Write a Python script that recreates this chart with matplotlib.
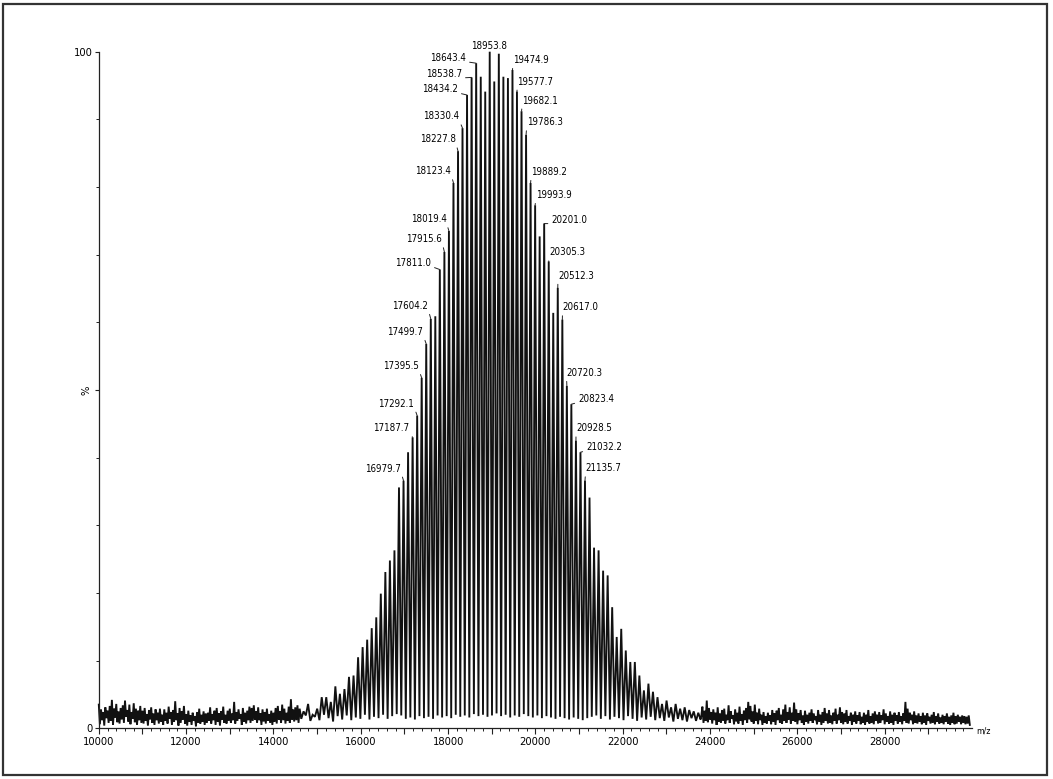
import numpy as np
import matplotlib
matplotlib.use("Agg")
import matplotlib.pyplot as plt
from matplotlib import font_manager
from matplotlib.patches import Rectangle

# pick a narrow face if the machine has one
_fonts = font_manager.fontManager.ttflist
_names = {f.name for f in _fonts}
if "Liberation Sans Narrow" in _names:
    FONT, STRETCH, TICK_FS, LAB_FS = ["Liberation Sans Narrow", "DejaVu Sans"], "normal", 8.5, 7.5
elif any(f.name == "DejaVu Sans" and f.stretch == "condensed" for f in _fonts):
    FONT, STRETCH, TICK_FS, LAB_FS = ["DejaVu Sans", "DejaVu Sans"], "condensed", 8.0, 7.0
else:
    FONT, STRETCH, TICK_FS, LAB_FS = ["Liberation Sans", "DejaVu Sans"], "normal", 7.6, 6.8

# ---------------------------------------------------------------- data
# main series of peaks (m/z) and relative intensity (%)
peak_mz = [14689.5, 14793.6, 14897.7, 15001.8, 15105.9, 15210.0, 15314.1, 15418.2,
           15522.3, 15626.4, 15730.5, 15834.6, 15938.7, 16042.8, 16146.9, 16251.0,
           16355.1, 16459.2, 16563.3, 16667.4, 16771.5, 16875.6,
           16979.7, 17083.7, 17187.7, 17292.1, 17395.5, 17499.7, 17604.2, 17707.5,
           17811.0, 17915.6, 18019.4, 18123.4, 18227.8, 18330.4, 18434.2, 18538.7,
           18643.4, 18748.3, 18851.0, 18953.8, 19058.0, 19162.2, 19266.5, 19370.7,
           19474.9, 19577.7, 19682.1, 19786.3, 19889.2, 19993.9, 20097.5, 20201.0,
           20305.3, 20408.8, 20512.3, 20617.0, 20720.3, 20823.4, 20928.5, 21032.2,
           21135.7,
           21239.5, 21343.3, 21447.1, 21550.9, 21654.7, 21758.5, 21862.3, 21966.1,
           22069.9, 22173.7, 22277.5, 22381.3, 22485.1, 22588.9, 22692.7, 22796.5,
           22900.3, 23004.1, 23107.9, 23211.7, 23315.5, 23419.3, 23523.1, 23626.9,
           23730.7]
peak_pct = [2.5, 3.6, 2.0, 2.9, 4.6, 4.6, 3.9, 6.2,
            5.1, 5.8, 7.6, 7.8, 10.5, 12.0, 13.1, 14.8,
            16.4, 19.9, 23.1, 24.8, 26.3, 35.6,
            36.6, 40.8, 43.0, 46.2, 51.8, 56.8, 60.5, 60.9,
            67.8, 70.4, 73.5, 80.6, 85.3, 88.7, 93.6, 96.2,
            98.3, 96.3, 94.1, 100.0, 95.6, 99.7, 96.3, 96.1,
            97.3, 94.1, 91.2, 87.7, 80.6, 77.3, 72.7, 74.6,
            69.0, 61.4, 65.1, 60.4, 50.6, 47.9, 42.5, 40.8,
            36.6,
            34.1, 26.7, 26.3, 23.3, 22.6, 17.9, 13.5, 14.7,
            11.5, 9.8, 9.8, 7.8, 5.6, 6.6, 5.4, 4.6,
            3.6, 4.1, 3.1, 3.6, 2.9, 3.1, 2.7, 2.5,
            2.3]
# troughs between the peaks (%)
valley_pct = [1.4, 1.9, 1.1, 1.7, 1.2, 2.0, 1.5, 1.0, 1.8, 1.3, 1.9, 1.2,
              1.6, 1.4, 2.0, 1.3, 1.7, 1.5, 2.0, 1.4, 1.8, 2.1, 1.9,
              1.4, 1.6, 1.3, 1.8, 1.5, 1.7, 1.4, 1.9, 1.6, 1.8, 1.5, 2.0,
              1.7, 1.9, 1.6, 2.1, 1.8, 2.0, 1.7, 1.9, 2.2, 1.8, 2.0, 1.6,
              1.9, 1.7, 2.1, 1.8, 1.6, 1.9, 1.5, 1.8, 1.6, 1.4, 1.7, 1.5,
              1.3, 1.6, 1.4, 1.2, 1.5,
              1.7, 1.9, 1.4, 1.8, 1.3, 1.7, 1.5, 1.2, 1.8, 1.4, 1.1, 1.6,
              1.3, 1.7, 1.2, 1.5, 1.1, 1.6, 1.0, 1.4, 1.2, 1.0, 1.5, 1.1, 1.3]
# baseline noise, every 25 Da from 10000 to 14600
noise_left_pct = [
    3.5, 0.6, 2.8, 1.2, 2.4, 0.4, 3.1, 1.5, 2.6, 0.8, 3.3, 1.1, 4.2, 0.5, 2.9, 1.6, 3.6, 0.9, 2.5, 0.7,
    3.0, 1.3, 3.4, 0.8, 4.1, 1.7, 2.7, 1.0, 3.5, 0.6, 2.4, 1.4, 3.7, 0.9, 2.9, 0.5, 2.6, 1.2, 3.3, 0.8,
    2.6, 0.7, 3.0, 1.1, 2.1, 0.4, 2.7, 1.3, 3.1, 0.8, 2.2, 0.5, 2.8, 1.2, 2.3, 0.7, 2.9, 1.0, 2.0, 0.5,
    2.8, 1.1, 2.3, 0.7, 3.2, 1.4, 2.4, 0.5, 2.7, 1.0, 4.0, 1.2, 2.2, 0.4, 3.0, 0.8, 2.5, 1.3, 3.3, 0.7,
    2.1, 0.4, 2.6, 1.0, 1.9, 0.5, 2.3, 1.1, 1.8, 0.3, 2.4, 0.8, 2.9, 0.7, 2.0, 1.0, 2.5, 0.5, 2.2, 0.8,
    2.3, 1.1, 3.1, 0.7, 2.1, 1.2, 2.6, 0.5, 3.0, 1.0, 2.2, 0.4, 2.5, 1.3, 3.2, 0.8, 2.0, 0.7, 2.6, 1.1,
    2.9, 0.8, 2.2, 1.2, 3.9, 0.7, 2.4, 1.1, 2.8, 1.4, 2.1, 0.5, 3.0, 1.0, 2.3, 0.7, 2.6, 1.2, 3.2, 0.8,
    3.0, 1.1, 3.4, 1.3, 2.5, 0.8, 3.1, 1.2, 2.2, 0.5, 2.8, 1.0, 2.4, 0.7, 2.9, 1.1, 2.1, 0.8, 2.6, 0.5,
    2.3, 1.0, 3.0, 0.7, 3.3, 1.3, 2.5, 0.8, 3.5, 1.2, 2.9, 0.7, 2.3, 1.1, 3.2, 0.8, 4.3, 1.3, 2.8, 1.0,
    3.1, 1.2, 3.4, 0.8, 2.9]
# baseline noise, every 25 Da from 23800 to 29950
noise_right_pct = [
    1.8, 3.2, 0.8, 2.6, 1.1, 4.1, 0.9, 3.0, 1.3, 2.4, 0.7, 2.8, 1.2, 2.3, 0.5, 3.1, 1.0, 2.2, 0.8, 2.7,
    1.1, 2.9, 0.7, 2.0, 1.2, 3.4, 0.8, 2.5, 1.4, 1.9, 0.6, 2.8, 1.0, 2.3, 0.7, 3.2, 1.1, 2.1, 0.5, 2.6,
    1.2, 3.0, 0.8, 3.9, 1.3, 3.3, 1.0, 2.5, 0.7, 3.5, 1.1, 2.3, 0.6, 2.9, 1.2, 2.0, 0.5, 2.4, 0.8, 1.8,
    0.7, 2.3, 1.1, 1.9, 0.6, 2.7, 1.0, 2.2, 0.5, 2.6, 1.2, 3.0, 0.8, 2.0, 0.7, 2.8, 1.1, 3.5, 0.8, 2.4,
    1.3, 3.1, 0.7, 2.3, 1.1, 3.8, 1.0, 2.8, 0.6, 2.2, 1.2, 2.7, 0.8, 1.9, 0.5, 2.6, 1.0, 2.0, 0.7, 2.3,
    1.1, 2.8, 0.8, 2.2, 1.2, 1.8, 0.6, 2.7, 1.0, 2.0, 0.5, 2.4, 0.8, 3.0, 1.1, 2.2, 0.7, 2.7, 0.8, 1.9,
    0.6, 2.3, 1.1, 2.9, 0.7, 2.0, 1.2, 3.1, 0.8, 2.4, 0.6, 2.2, 1.0, 2.7, 0.7, 1.8, 1.1, 2.3, 0.5, 2.0,
    1.0, 2.5, 0.7, 1.9, 1.1, 2.4, 0.6, 1.7, 0.8, 2.3, 0.5, 2.0, 1.0, 2.7, 0.7, 1.8, 0.8, 2.2, 0.6, 2.5,
    1.1, 2.0, 0.7, 2.4, 0.8, 1.9, 1.2, 2.8, 0.6, 2.2, 1.0, 1.8, 0.7, 2.5, 0.8, 2.0, 0.5, 2.3, 1.1, 1.9,
    0.7, 2.4, 1.0, 1.8, 0.6, 2.2, 1.1, 3.9, 0.8, 2.9, 0.7, 2.3, 1.2, 2.0, 0.6, 2.5, 0.8, 1.9, 0.7, 2.2,
    1.0, 1.8, 0.6, 2.3, 0.8, 1.9, 0.5, 2.2, 1.1, 1.7, 0.7, 2.0, 0.8, 2.4, 0.6, 1.8, 1.0, 2.2, 0.7, 1.6,
    0.8, 2.0, 0.6, 1.8, 1.0, 2.2, 0.7, 1.7, 0.5, 1.9, 0.8, 2.3, 0.6, 1.8, 0.7, 2.0, 1.0, 1.7, 0.6, 1.9,
    0.8, 1.8, 0.6, 1.7, 0.7, 1.9, 0.5]

# labelled peaks
left_labels = [18643.4, 18538.7, 18434.2, 18330.4, 18227.8, 18123.4, 18019.4,
               17915.6, 17811.0, 17604.2, 17499.7, 17395.5, 17292.1, 17187.7, 16979.7]
right_labels = [19474.9, 19577.7, 19682.1, 19786.3, 19889.2, 19993.9, 20201.0,
                20305.3, 20512.3, 20617.0, 20720.3, 20823.4, 20928.5, 21032.2, 21135.7]
top_label = 18953.8

# label placement (pixels from the peak top)
left_offsets = [(-10, 5), (-9.5, 3), (-9, 5.6), (-3.4, 11.7), (-2.2, 11.7), (-2.3, 11.7),
                (-2.5, 11.7), (-2.2, 12.7), (-8.7, 6.7), (-2.6, 13), (-3, 12), (-3, 11.7),
                (-3, 12), (-3.4, 9), (-2.6, 12)]
right_offsets = [(0.6, 10), (0.4, 10), (0.8, 10.7), (0.7, 12.6), (0.8, 11), (0.6, 10.3),
                 (7.1, 3.4), (0.3, 9), (0.2, 12), (0.2, 12.3), (-0.3, 13), (6.7, 5.3),
                 (0.1, 12.3), (5.6, 5), (0.6, 12.3)]

# ---------------------------------------------------------------- trace
xs = list(np.arange(10000, 14601, 25))
ys = list(noise_left_pct)
edges = [peak_mz[0] - 52] + [(a + b) / 2 for a, b in zip(peak_mz[:-1], peak_mz[1:])] + [peak_mz[-1] + 52]
for i, (m, h) in enumerate(zip(peak_mz, peak_pct)):
    xs += [edges[i], m]
    ys += [valley_pct[i], h]
xs.append(edges[-1])
ys.append(valley_pct[-1])
xs += list(np.arange(23800, 29951, 25))
ys += noise_right_pct

W, H = 1053, 779
fig = plt.figure(figsize=(W / 100, H / 100), dpi=100)
ax = fig.add_axes([98.8 / W, 1 - 728.3 / H, (972 - 98.8) / W, (728.3 - 51.7) / H])
ax.plot(xs, ys, color="#111111", lw=1.35, clip_on=False, solid_joinstyle="miter")
ax.set_xlim(10000, 30000)
ax.set_ylim(0, 100)

for s in ["top", "right"]:
    ax.spines[s].set_visible(False)
for s in ["left", "bottom"]:
    ax.spines[s].set_linewidth(0.9)
    ax.spines[s].set_color("#222222")

# x ticks
major = list(range(10000, 30000, 1000))
ax.set_xticks(major)
ax.set_xticklabels([str(v) if v % 2000 == 0 else "" for v in major])
ax.set_xticks([v for v in range(10000, 30000, 200) if v % 1000], minor=True)
ax.tick_params(axis="x", which="major", direction="out", length=4, width=0.8, pad=2.5,
               labelsize=TICK_FS, colors="#222222")
ax.tick_params(axis="x", which="minor", direction="out", length=2.2, width=0.7, colors="#222222")
# y ticks
ax.set_yticks([0, 50, 100])
ax.set_yticklabels(["0", "", "100"])
ax.set_yticks([10, 20, 30, 40, 60, 70, 80, 90], minor=True)
ax.tick_params(axis="y", which="major", direction="out", length=3, width=0.8, pad=1.5,
               labelsize=TICK_FS, colors="#222222")
ax.tick_params(axis="y", which="minor", direction="out", length=2, width=0.7, colors="#222222")
for lab in ax.get_xticklabels() + ax.get_yticklabels():
    lab.set_family(FONT)
    lab.set_stretch(STRETCH)
    lab.set_color("black")

ax.text(-0.014, 0.5, "%", transform=ax.transAxes, rotation=90, ha="center", va="center",
        fontsize=TICK_FS, family=FONT, stretch=STRETCH)
fig.text(976 / W, 1 - 731 / H, "m/z", fontsize=6.2, family=FONT, stretch=STRETCH,
         ha="left", va="center")


# peak labels
def height_of(mz):
    return peak_pct[peak_mz.index(mz)]


for mz, (dx, dy) in zip(left_labels, left_offsets):
    ax.annotate(f"{mz:.1f}", xy=(mz, height_of(mz)), xytext=(dx, dy), textcoords="offset pixels",
                ha="right", va="center", fontsize=LAB_FS, family=FONT, stretch=STRETCH,
                arrowprops=dict(arrowstyle="-", lw=0.7, color="#222222", relpos=(1.0, 0.15),
                                shrinkA=0.5, shrinkB=0))
for mz, (dx, dy) in zip(right_labels, right_offsets):
    ax.annotate(f"{mz:.1f}", xy=(mz, height_of(mz)), xytext=(dx, dy), textcoords="offset pixels",
                ha="left", va="center", fontsize=LAB_FS, family=FONT, stretch=STRETCH,
                arrowprops=dict(arrowstyle="-", lw=0.7, color="#222222", relpos=(0.0, 0.15),
                                shrinkA=0.5, shrinkB=0))
ax.annotate(f"{top_label:.1f}", xy=(top_label, height_of(top_label)), xytext=(-0.5, 1),
            textcoords="offset pixels", ha="center", va="bottom", fontsize=LAB_FS,
            family=FONT, stretch=STRETCH)

# frame round the whole picture
fig.patches.append(Rectangle((2.5 / W, 1 - 775 / H), (1047 - 2.5) / W, (775 - 3.5) / H,
                             transform=fig.transFigure, fill=False, lw=1.6, ec="#333333"))

fig.savefig("out.png", dpi=100)
